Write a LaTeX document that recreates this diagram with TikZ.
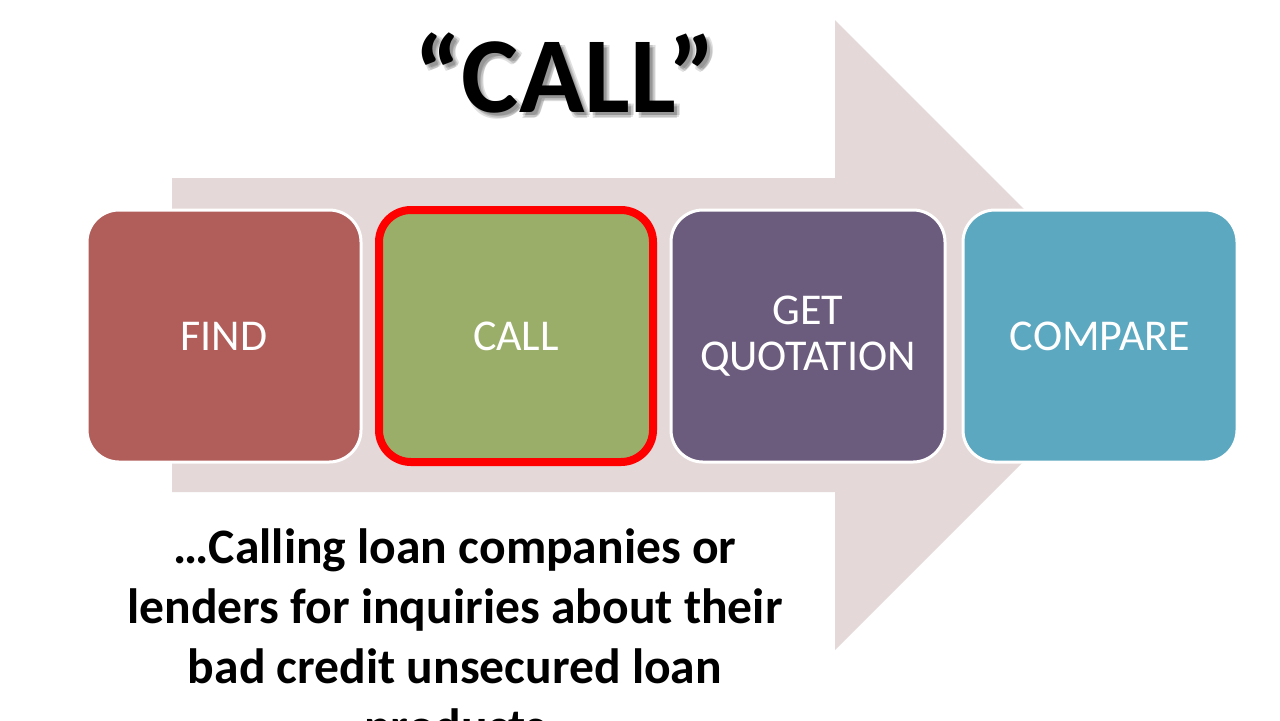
\documentclass[tikz,border=0pt]{standalone}
\usepackage{fontspec}
\setmainfont{Carlito}
\definecolor{arrowpink}{HTML}{E5D8D8}
\definecolor{findred}{HTML}{B15E5B}
\definecolor{callgreen}{HTML}{9BAE69}
\definecolor{quotepurple}{HTML}{6B5B7D}
\definecolor{compareblue}{HTML}{5CA8C0}
\begin{document}
\begin{tikzpicture}[x=0.5pt,y=-0.5pt,
  stepbox/.style={draw=white, line width=1.5pt, rounded corners=16pt,
    minimum width=137pt, minimum height=126pt, text=white, align=center,
    inner sep=0pt, font=\fontsize{22}{23}\selectfont},
  titletext/.style={font=\bfseries\fontsize{54}{60}\selectfont, inner sep=0pt, anchor=base}]
\useasboundingbox (0,0) rectangle (1280,720);
\clip (0,0) rectangle (1280,720);
\fill[white] (0,0) rectangle (1280,720);
% big arrow
\fill[arrowpink] (172,178) -- (835,178) -- (835,20) -- (1150,335) -- (835,650) -- (835,492) -- (172,492) -- cycle;
% title with soft shadow
\node[titletext, text=black, opacity=0.12] (titleshadowa) at (570,117) {“CALL”};
\node[titletext, text=black, opacity=0.12] (titleshadowb) at (568,115) {“CALL”};
\node[titletext, text=black, opacity=0.12] (titleshadowc) at (571,115) {“CALL”};
\node[titletext, text=black, opacity=0.12] (titleshadowd) at (568,118) {“CALL”};
\node[titletext] (title) at (565,112) {“CALL”};
% steps
\node[stepbox, fill=findred] (find) at (224,336) {FIND};
\node[stepbox, fill=callgreen, draw=red, line width=4pt] (call) at (516,336) {CALL};
\node[stepbox, fill=quotepurple] (quote) at (808,336) {GET\\QUOTATION};
\node[stepbox, fill=compareblue] (compare) at (1100,336) {COMPARE};
% description
\node[anchor=north, align=center, inner sep=0pt, font=\bfseries\fontsize{24.8}{30}\selectfont] (desc) at (455,528)
  {…Calling loan companies or\\lenders for inquiries about their\\bad credit unsecured loan\\products};
\end{tikzpicture}
\end{document}
